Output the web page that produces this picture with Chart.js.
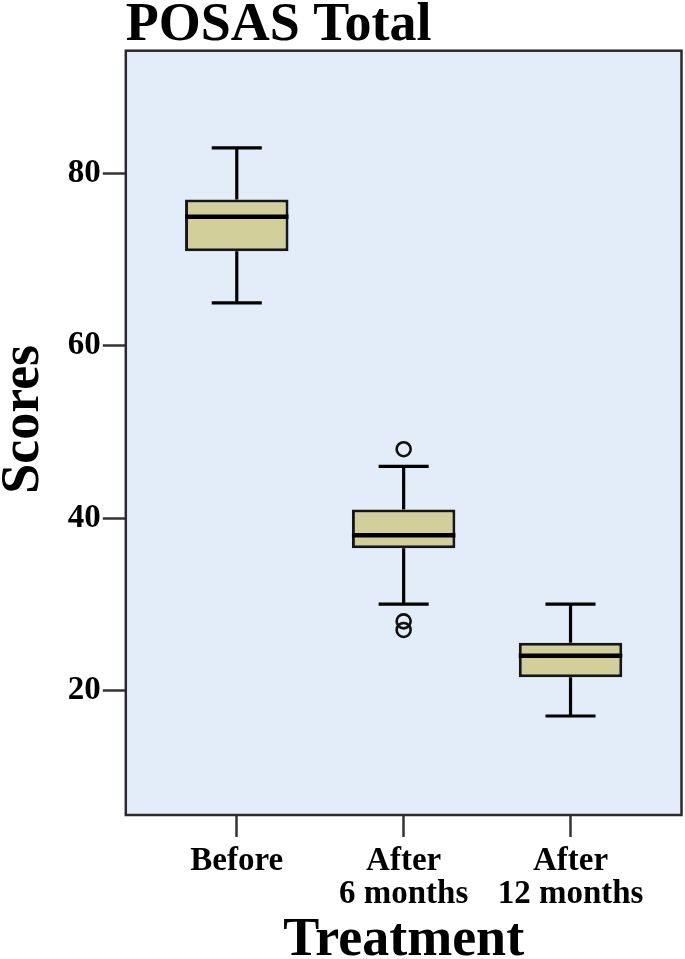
<!DOCTYPE html>
<html>
<head>
<meta charset="utf-8">
<script src="https://cdn.jsdelivr.net/npm/chart.js@4.4.0/dist/chart.umd.min.js"></script>
<style>
  body { margin: 0; background: #fff; }
  #wrap { width: 685px; height: 959px; position: relative; }
</style>
</head>
<body>
<div id="wrap"><canvas id="chart"></canvas></div>
<script>
// values
let categories = [['Before'], ['After', '6 months'], ['After', '12 months']];
let whiskerLow = [65, 30, 17];
let quartile1 = [71, 36.5, 21.5];
let medians = [75, 38, 24];
let quartile3 = [77, 41, 25.5];
let whiskerHigh = [83, 46, 30];
let outlierGroup = [1, 1, 1];
let outlierValues = [48, 28, 27];
let yTicks = [20, 40, 60, 80];

let serif = '"Liberation Serif", "Times New Roman", serif';
let boxHalf = 0.31;   // half box width, in category units
let capHalf = 0.15;   // half whisker cap width

let boxData = categories.map((c, i) => ({x: i, y: [quartile1[i], quartile3[i]]}));

let whiskerData = [];
let medianData = [];
categories.forEach((c, i) => {
    whiskerData.push({x: i - capHalf, y: whiskerHigh[i]}, {x: i + capHalf, y: whiskerHigh[i]}, {x: i, y: null});
    whiskerData.push({x: i, y: whiskerHigh[i]}, {x: i, y: quartile3[i]}, {x: i, y: null});
    whiskerData.push({x: i, y: quartile1[i]}, {x: i, y: whiskerLow[i]}, {x: i, y: null});
    whiskerData.push({x: i - capHalf, y: whiskerLow[i]}, {x: i + capHalf, y: whiskerLow[i]}, {x: i, y: null});
    medianData.push({x: i - boxHalf, y: medians[i]}, {x: i + boxHalf, y: medians[i]}, {x: i, y: null});
});

let outlierData = outlierValues.map((v, i) => ({x: outlierGroup[i], y: v}));

let plotFrame = {
    id: 'plotFrame',
    beforeDraw(chart) {
        let a = chart.chartArea;
        let ctx = chart.ctx;
        ctx.save();
        ctx.fillStyle = '#E3EDFA';
        ctx.fillRect(a.left, a.top, a.right - a.left, a.bottom - a.top);
        ctx.restore();
    },
    afterDraw(chart) {
        let a = chart.chartArea;
        let ctx = chart.ctx;
        ctx.save();
        ctx.strokeStyle = '#2a2a2a';
        ctx.lineWidth = 2.5;
        ctx.strokeRect(a.left, a.top, a.right - a.left, a.bottom - a.top);
        ctx.restore();
    }
};

let ctx = document.getElementById('chart');

let myBoxChart = new Chart(ctx, {
    type: 'bar',
    data: {
        datasets: [
            {
                type: 'line',
                data: outlierData,
                showLine: false,
                pointRadius: 7,
                pointBorderWidth: 2.6,
                pointBorderColor: '#111',
                pointBackgroundColor: 'rgba(0,0,0,0)',
                order: 0
            },
            {
                type: 'line',
                data: medianData,
                borderColor: '#000',
                borderWidth: 4.5,
                pointRadius: 0,
                spanGaps: false,
                order: 1
            },
            {
                type: 'bar',
                data: boxData,
                backgroundColor: '#D3CF9B',
                borderColor: '#161616',
                borderWidth: 3,
                borderSkipped: false,
                categoryPercentage: 1,
                barPercentage: 0.62,
                order: 2
            },
            {
                type: 'line',
                data: whiskerData,
                borderColor: '#000',
                borderWidth: 3.2,
                pointRadius: 0,
                spanGaps: false,
                order: 3
            }
        ]
    },
    options: {
        responsive: true,
        maintainAspectRatio: false,
        animation: false,
        layout: { autoPadding: false, padding: { left: 0, right: 3.5, top: 0, bottom: 0 } },
        plugins: {
            legend: { display: false },
            tooltip: { enabled: false },
            title: {
                display: true,
                text: 'POSAS Total',
                align: 'start',
                fullSize: false,
                color: '#000',
                font: { family: serif, size: 54, weight: 'bold', lineHeight: 0.9 },
                padding: { top: 2, bottom: 0.1 }
            }
        },
        scales: {
            x: {
                type: 'linear',
                min: -0.665,
                max: 2.665,
                offset: false,
                afterBuildTicks: s => { s.ticks = categories.map((c, i) => ({value: i})); },
                afterFit: s => { s.height = 144; },
                border: { display: false },
                grid: {
                    offset: false,
                    drawOnChartArea: false,
                    drawTicks: true,
                    tickLength: 22,
                    tickColor: '#333',
                    tickWidth: 2.5
                },
                ticks: {
                    color: '#000',
                    font: { family: serif, size: 33, weight: 'bold', lineHeight: 1 },
                    padding: 8,
                    maxRotation: 0,
                    autoSkip: false,
                    callback: v => categories[v]
                },
                title: {
                    display: true,
                    text: 'Treatment',
                    color: '#000',
                    font: { family: serif, size: 54, weight: 'bold', lineHeight: 0.67 },
                    padding: 0
                }
            },
            y: {
                min: 5.5,
                max: 94.3,
                afterBuildTicks: s => { s.ticks = yTicks.map(v => ({value: v})); },
                afterFit: s => { s.width = 125.8; },
                border: { display: false },
                grid: {
                    drawOnChartArea: false,
                    drawTicks: true,
                    tickLength: 23,
                    tickColor: '#333',
                    tickWidth: 2.5
                },
                ticks: {
                    color: '#000',
                    font: { family: serif, size: 33, weight: 'bold' },
                    padding: 2
                },
                title: {
                    display: true,
                    text: '  Scores',
                    color: '#000',
                    font: { family: serif, size: 54, weight: 'bold', lineHeight: 0.9 },
                    padding: 0
                }
            }
        }
    },
    plugins: [plotFrame]
});
</script>
</body>
</html>
